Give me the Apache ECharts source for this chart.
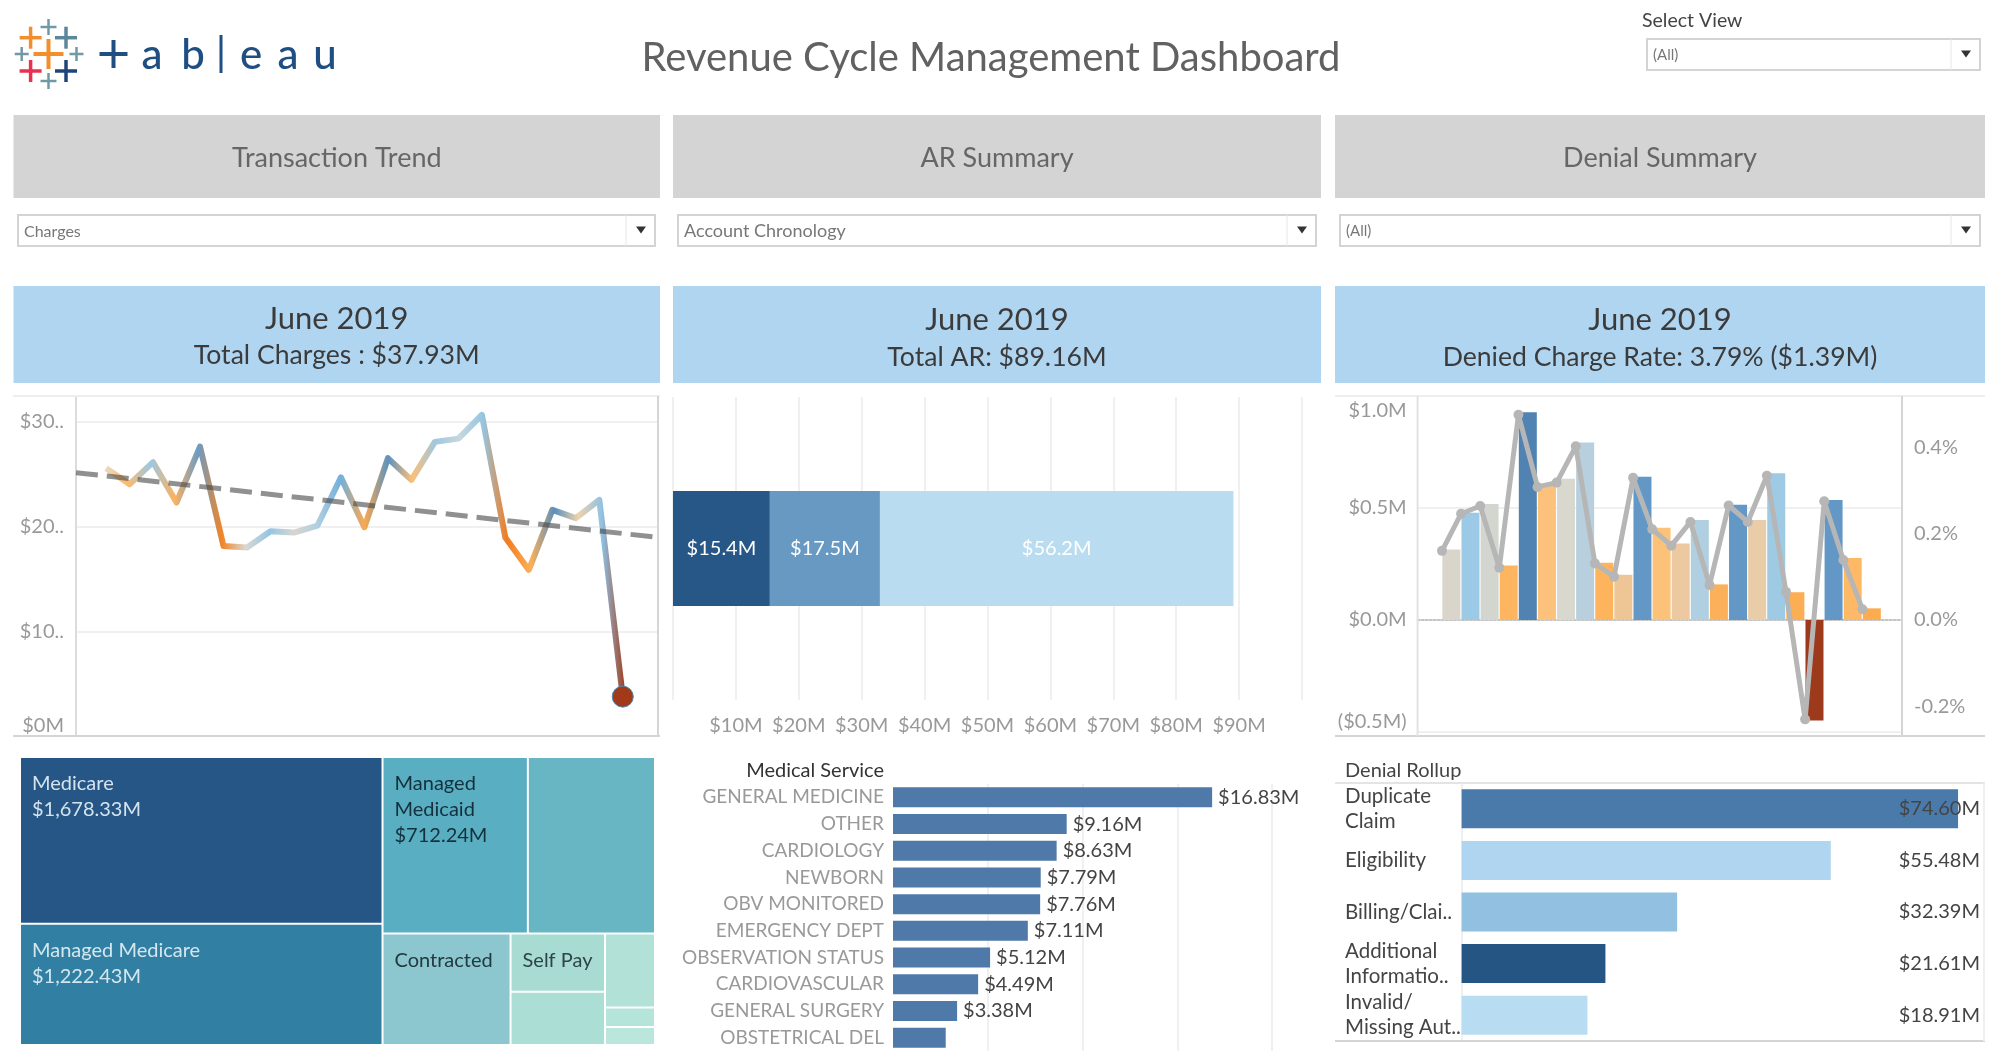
<!DOCTYPE html>
<html lang="en">
<head>
    <meta charset="utf-8">
    <title>Revenue Cycle Management Dashboard</title>
    <script src="https://cdn.jsdelivr.net/npm/echarts@6/dist/echarts.min.js"></script>
    <style>
        html, body { margin: 0; padding: 0; background: #fff; }
        #main { width: 2000px; height: 1051px; }
    </style>
</head>
<body>

<div id="main"></div>

<script>
    var FONT = 'Lato';

    // Transaction trend, $M per month, last point is June 2019
    var chargeValues = [25.57, 24.04, 26.15, 22.3, 27.64, 18.15, 18.0, 19.55, 19.43, 20.1, 24.7, 19.94,
        26.53, 24.46, 28.09, 28.4, 30.67, 18.95, 15.86, 21.6, 20.8, 22.55, 3.76];
    var chargeColors = ['#e8dccb', '#fdbb6c', '#9cc8e3', '#fdb25f', '#6b9cc4', '#f28527', '#dcd8d0', '#93c5e5',
        '#d8d6cf', '#b2d0e0', '#72b0dd', '#fba84f', '#5c93bf', '#fdbf75', '#9ec8e2', '#c8d7dd', '#95c5e2',
        '#f27c1e', '#fcb05a', '#5a90bd', '#efd2ac', '#8fc2e4', '#a23a1a'];
    var trendX = [-1.28, 23.36];
    var trendY = [25.15, 19.0];
    var chargeTicks = ['$0M', '$10..', '$20..', '$30..'];

    // AR summary
    var arNames = ['0-30', '31-90', '90+'];
    var arValues = [15.4, 17.5, 56.2];
    var arLabels = ['$15.4M', '$17.5M', '$56.2M'];
    var arColors = ['#265786', '#6899c3', '#badcf1'];
    var arTicks = ['', '$10M', '$20M', '$30M', '$40M', '$50M', '$60M', '$70M', '$80M', '$90M', ''];

    // Denial summary
    var deniedValues = [0.315, 0.479, 0.518, 0.243, 0.927, 0.603, 0.631, 0.792, 0.256, 0.202, 0.64, 0.412,
        0.341, 0.446, 0.159, 0.515, 0.446, 0.655, 0.124, -0.449, 0.536, 0.277, 0.052];
    var deniedColors = ['#d9d5cb', '#9cc9e6', '#d3d6cf', '#fdb55f', '#5082b2', '#fcc27c', '#d9d8cf', '#b8cfde',
        '#fdb45c', '#eec696', '#6398c6', '#fdc27a', '#ecc9a0', '#b0cfe0', '#fdb05a', '#6398c6', '#e9cca8',
        '#9ecae4', '#fcae55', '#9d3a1b', '#6398c6', '#fdb966', '#fdab4f'];
    var rateValues = [0.16, 0.246, 0.264, 0.121, 0.475, 0.308, 0.318, 0.402, 0.131, 0.1, 0.329, 0.21,
        0.172, 0.227, 0.081, 0.265, 0.227, 0.334, 0.065, -0.23, 0.275, 0.139, 0.025];
    var deniedTicks = [-0.5, 0, 0.5, 1];
    var deniedTickLabels = ['($0.5M)', '$0.0M', '$0.5M', '$1.0M'];
    var rateTicks = [-0.2, 0, 0.2, 0.4];
    var rateTickLabels = ['-0.2%', '0.0%', '0.2%', '0.4%'];

    // Payer treemap, $M. Some cells have no readable caption
    var payerNames = ['Medicare', 'Managed Medicare', 'Managed Medicaid', '', 'Contracted', 'Self Pay', '', '', '', ''];
    var payerValues = [1678.33, 1222.43, 712.24, 623, 397, 153, 140, 103, 27, 25];
    var payerLabels = ['Medicare\n$1,678.33M', 'Managed Medicare\n$1,222.43M', 'Managed\nMedicaid\n$712.24M', '',
        'Contracted', 'Self Pay', '', '', '', ''];
    var payerColors = ['#255685', '#3180a3', '#5aaec2', '#68b5c4', '#8cc6cf', '#a8dcd3', '#abded5', '#b1e1d7', '#b5e4da', '#bbe6dc'];
    var payerTextColors = ['#d5e3ee', '#d5e7ee', '#14303c', '', '#22393f', '#2f4448', '', '', '', ''];

    // Medical service
    var serviceNames = ['GENERAL MEDICINE', 'OTHER', 'CARDIOLOGY', 'NEWBORN', 'OBV MONITORED', 'EMERGENCY DEPT',
        'OBSERVATION STATUS', 'CARDIOVASCULAR', 'GENERAL SURGERY', 'OBSTETRICAL DEL'];
    var serviceValues = [16.83, 9.16, 8.63, 7.79, 7.76, 7.11, 5.12, 4.49, 3.38, 2.78];

    // Denial rollup
    var rollupNames = ['Duplicate\nClaim', 'Eligibility', 'Billing/Clai..', 'Additional\nInformatio..', 'Invalid/\nMissing Aut..'];
    var rollupValues = [74.6, 55.48, 32.39, 21.61, 18.91];
    var rollupLabels = ['$74.60M', '$55.48M', '$32.39M', '$21.61M', '$18.91M'];
    var rollupColors = ['#4a7aaa', '#b0d5f0', '#92c0e1', '#255683', '#b8ddf2'];

    var myChart = echarts.init(document.getElementById('main'));

    function pairs(xs, ys) {
        return ys.map(function (y, i) { return [xs[i], y]; });
    }
    var monthIndex = chargeValues.map(function (v, i) { return i; });
    var barIndex = deniedValues.map(function (v, i) { return i + 0.49; });

    var chargeStops = chargeColors.map(function (c, i) {
        return { offset: i / (chargeColors.length - 1), color: c };
    });

    function text(str, x, y, size, color, align, weight) {
        return {
            type: 'text', z: 10, silent: true,
            style: {
                text: str, x: x, y: y, fill: color, align: align || 'center', verticalAlign: 'middle',
                font: (weight || 'normal') + ' ' + size + 'px ' + FONT
            }
        };
    }
    function box(x, y, w, h, fill, stroke) {
        return {
            type: 'rect', silent: true, shape: { x: x, y: y, width: w, height: h },
            style: { fill: fill, stroke: stroke || null, lineWidth: stroke ? 2 : 0 }
        };
    }
    function rule(x1, y1, x2, y2, color, width) {
        return {
            type: 'line', silent: true, z: 10, shape: { x1: x1, y1: y1, x2: x2, y2: y2 },
            style: { stroke: color, lineWidth: width || 2 }
        };
    }
    function dropdown(x1, x2, sep, y1, y2, label, size) {
        var mid = (y1 + y2) / 2;
        var out = [box(x1, y1, x2 - x1, y2 - y1, '#fff', '#d4d4d4'), rule(sep, y1, sep, y2, '#e6e6e6', 1)];
        out.push(text(label, x1 + 6, mid + 1, size, '#777', 'left'));
        out.push({
            type: 'polygon', silent: true, z: 10,
            shape: { points: [[sep + 10, mid - 4], [sep + 20, mid - 4], [sep + 15, mid + 3]] },
            style: { fill: '#333' }
        });
        return out;
    }

    var graphics = [];

    // logo
    var crosses = [[48.5, 27, 8, '#7099a6', 2.5], [30.6, 37.7, 11, '#f28e2b', 3.5], [66, 37.7, 11, '#5b879b', 3.5],
        [48.5, 54, 15, '#f28e2b', 4], [21.7, 54, 7, '#7099a6', 2.5], [76.5, 54, 7, '#7099a6', 2.5],
        [30.6, 71, 11, '#e8304f', 3.5], [66, 71, 11, '#1f447a', 3.5], [48.5, 81, 8, '#7099a6', 2.5], [113.5, 54, 14, '#1f4f82', 4]];
    crosses.forEach(function (c) {
        graphics.push(rule(c[0] - c[2], c[1], c[0] + c[2], c[1], c[3], c[4]));
        graphics.push(rule(c[0], c[1] - c[2], c[0], c[1] + c[2], c[3], c[4]));
    });
    [['a', 152], ['b', 193], ['e', 251], ['a', 288], ['u', 325]].forEach(function (l) {
        graphics.push(text(l[0], l[1], 55, 42, '#1f4f82', 'center', '500'));
    });
    graphics.push(rule(221, 35, 221, 73, '#1f4f82', 3));

    graphics.push(text('Revenue Cycle Management Dashboard', 991, 58, 40, '#616161'));
    graphics.push(text('Select View', 1642, 21, 19.5, '#444', 'left'));
    graphics = graphics.concat(dropdown(1647, 1980, 1951, 39, 70, '(All)', 15));

    // column headers
    var columns = [
        { x1: 13.5, x2: 660, title: 'Transaction Trend', dd: 'Charges', ddSize: 16, ddX: [18, 655, 626], sub: 'Total Charges : $37.93M', yj: 319, ys: 355 },
        { x1: 673, x2: 1321, title: 'AR Summary', dd: 'Account Chronology', ddSize: 18, ddX: [678, 1316, 1287], sub: 'Total AR: $89.16M', yj: 320, ys: 357 },
        { x1: 1335, x2: 1985, title: 'Denial Summary', dd: '(All)', ddSize: 15, ddX: [1340, 1980, 1951], sub: 'Denied Charge Rate: 3.79% ($1.39M)', yj: 320, ys: 357 }
    ];
    columns.forEach(function (c) {
        var mid = (c.x1 + c.x2) / 2;
        graphics.push(box(c.x1, 115, c.x2 - c.x1, 83, '#d4d4d4'));
        graphics.push(text(c.title, mid, 158, 27, '#666'));
        graphics = graphics.concat(dropdown(c.ddX[0], c.ddX[1], c.ddX[2], 215, 246, c.dd, c.ddSize));
        graphics.push(box(c.x1, 286, c.x2 - c.x1, 97, '#b0d5f0'));
        graphics.push(text('June 2019', mid, c.yj, 31, '#3b3b3b'));
        graphics.push(text(c.sub, mid, c.ys, 26.6, '#3b3b3b'));
    });

    // panel frames
    graphics.push(rule(13, 396, 660, 396, '#eeeeee'));
    graphics.push(rule(13, 736, 660, 736, '#d5d5d5'));
    graphics.push(rule(658, 396, 658, 736, '#d5d5d5'));
    graphics.push(rule(1335, 396, 1985, 396, '#eeeeee'));
    graphics.push(rule(1335, 736, 1985, 736, '#d5d5d5'));
    graphics.push(rule(1417.6, 396, 1417.6, 736, '#e2e2e2'));
    graphics.push(rule(1902, 396, 1902, 736, '#d5d5d5'));
    graphics.push(rule(1335, 783, 1985, 783, '#e4e4e4'));
    graphics.push(rule(1335, 1041, 1985, 1041, '#d5d5d5'));
    graphics.push(rule(1984, 783, 1984, 1041, '#efefef'));

    graphics.push(text('Medical Service', 884, 771, 20, '#333', 'right'));
    graphics.push(text('Denial Rollup', 1345, 771, 20, '#444', 'left'));

    var faint = { lineStyle: { color: '#f0f0f0', width: 2 } };

    var arSeries = arValues.map(function (v, i) {
        return {
            type: 'bar', name: arNames[i], stack: 'ar', xAxisIndex: 1, yAxisIndex: 1, barWidth: 115, data: [v],
            itemStyle: { color: arColors[i] },
            label: { show: true, position: 'inside', color: '#fff', fontSize: 20, fontFamily: FONT, padding: [3, 0, 0, 0], formatter: arLabels[i] }
        };
    });

    var option = {
        animation: false,
        backgroundColor: '#fff',
        textStyle: { fontFamily: FONT },
        graphic: graphics,
        grid: [
            { left: 76, top: 396, width: 582, height: 340 },
            { left: 673, top: 397, width: 629, height: 303 },
            { left: 1417.6, top: 396, width: 484.4, height: 336 },
            { left: 893, top: 784, width: 409, height: 267 },
            { left: 1461.6, top: 783, width: 523.4, height: 258 }
        ],
        xAxis: [
            { gridIndex: 0, type: 'value', min: -1.28, max: 23.5, show: false },
            {
                gridIndex: 1, type: 'value', min: 0, max: 100, interval: 10,
                axisLine: { show: false }, axisTick: { show: false }, splitLine: faint,
                axisLabel: {
                    color: '#999', fontFamily: FONT, fontSize: 20, margin: 16,
                    showMinLabel: true, showMaxLabel: true,
                    formatter: function (v) { return arTicks[v / 10]; }
                }
            },
            { gridIndex: 2, type: 'value', min: -1.277, max: 24.07, axisLabel: { show: false }, axisTick: { show: false }, splitLine: { show: false },
                axisLine: { show: true, onZero: true, lineStyle: { color: '#c4c4c4', type: 'dotted', width: 2 } } },
            {
                gridIndex: 3, type: 'value', min: 0, max: 21.57, interval: 5,
                axisLabel: { show: false }, axisTick: { show: false }, axisLine: { show: false },
                splitLine: { showMinLine: false, showMaxLine: false, lineStyle: { color: '#f0f0f0', width: 2 } }
            },
            { gridIndex: 4, type: 'value', min: 0, max: 78.65, show: false }
        ],
        yAxis: [
            {
                gridIndex: 0, type: 'value', min: 0, max: 32.47, interval: 10,
                axisLine: { show: true, onZero: false, lineStyle: { color: '#dcdcdc', width: 2 } }, axisTick: { show: false },
                splitLine: { showMinLine: false, showMaxLine: false, lineStyle: { color: '#f0f0f0', width: 2 } },
                axisLabel: {
                    color: '#999', fontFamily: FONT, fontSize: 20, margin: 12, showMaxLabel: false, verticalAlignMinLabel: 'bottom', padding: [5, 0, 0, 0],
                    formatter: function (v) { return chargeTicks[v / 10]; }
                }
            },
            { gridIndex: 1, type: 'category', data: ['AR'], show: false },
            {
                gridIndex: 2, type: 'value', min: -0.5, max: 1, interval: 0.5,
                axisLine: { show: false, onZero: false }, axisTick: { show: false }, splitLine: faint,
                axisLabel: {
                    color: '#999', fontFamily: FONT, fontSize: 20, margin: 11, verticalAlignMaxLabel: 'top', verticalAlignMinLabel: 'bottom', padding: [5, 0, 0, 0],
                    formatter: function (v) { return deniedTickLabels[deniedTicks.indexOf(v)]; }
                }
            },
            {
                gridIndex: 2, type: 'value', position: 'right', min: -0.2593, max: 0.5185,
                axisLine: { show: false, onZero: false }, axisTick: { show: false }, splitLine: { show: false },
                axisLabel: {
                    color: '#999', fontFamily: FONT, fontSize: 20, margin: 12, customValues: rateTicks, padding: [5, 0, 0, 0],
                    formatter: function (v) { return rateTickLabels[rateTicks.indexOf(v)]; }
                }
            },
            {
                gridIndex: 3, type: 'category', inverse: true, data: serviceNames,
                axisLine: { show: false }, axisTick: { show: false },
                axisLabel: { color: '#999', fontFamily: FONT, fontSize: 19, margin: 9, interval: 0 }
            },
            {
                gridIndex: 4, type: 'category', inverse: true, data: rollupNames,
                axisLine: { show: true, lineStyle: { color: '#efefef', width: 2 } }, axisTick: { show: false },
                axisLabel: { color: '#444', fontFamily: FONT, fontSize: 20.5, lineHeight: 25, align: 'left', margin: 116.6, interval: 0 }
            },
            {
                gridIndex: 4, type: 'category', inverse: true, position: 'right', data: rollupLabels, z: 5,
                axisLine: { show: false }, axisTick: { show: false },
                axisLabel: { color: '#444', fontFamily: FONT, fontSize: 20, inside: true, margin: 5, interval: 0 }
            }
        ],
        series: [
            {
                type: 'line', xAxisIndex: 0, yAxisIndex: 0, data: pairs(monthIndex, chargeValues), symbol: 'none',
                lineStyle: { width: 6, join: 'round', color: new echarts.graphic.LinearGradient(0, 0, 1, 0, chargeStops) }
            },
            {
                type: 'line', xAxisIndex: 0, yAxisIndex: 0, data: pairs(trendX, trendY), symbol: 'none', z: 3,
                lineStyle: { width: 5, type: [22, 9], color: 'rgba(70,70,70,0.6)' }
            },
            {
                type: 'scatter', xAxisIndex: 0, yAxisIndex: 0, z: 4, symbolSize: 21,
                data: [[monthIndex[monthIndex.length - 1], chargeValues[chargeValues.length - 1]]],
                itemStyle: { color: '#a23a1a', opacity: 1, borderColor: '#4d85b0', borderWidth: 1 }
            },
            {
                type: 'bar', xAxisIndex: 2, yAxisIndex: 2, barWidth: 18,
                data: deniedValues.map(function (v, i) {
                    return { value: [barIndex[i], v], itemStyle: { color: deniedColors[i] } };
                })
            },
            {
                type: 'line', xAxisIndex: 2, yAxisIndex: 3, data: pairs(monthIndex, rateValues), symbol: 'circle', symbolSize: 10, z: 4,
                lineStyle: { width: 5, color: '#b6b6b6', join: 'round' }, itemStyle: { color: '#b6b6b6' }
            },
            {
                type: 'bar', xAxisIndex: 3, yAxisIndex: 4, barWidth: 20,
                data: serviceValues.map(function (v, i) {
                    // last bar has no caption in the dashboard
                    return { value: v, label: { show: i < serviceValues.length - 1 } };
                }),
                itemStyle: { color: '#4e79a9' },
                label: {
                    show: true, position: 'right', distance: 6, color: '#444', fontFamily: FONT, fontSize: 20,
                    formatter: function (p) { return '$' + p.value.toFixed(2) + 'M'; }
                }
            },
            {
                type: 'bar', xAxisIndex: 4, yAxisIndex: 5, barWidth: 39,
                data: rollupValues.map(function (v, i) {
                    return { value: v, itemStyle: { color: rollupColors[i] } };
                })
            },
            {
                type: 'treemap', left: 21, top: 758, width: 633, height: 286,
                roam: false, nodeClick: false, breadcrumb: { show: false },
                itemStyle: { gapWidth: 2, borderWidth: 0 },
                data: payerValues.map(function (v, i) {
                    return {
                        name: payerNames[i], value: v,
                        itemStyle: { color: payerColors[i] },
                        label: {
                            show: payerLabels[i] !== '', formatter: payerLabels[i], position: [6, 8],
                            color: payerTextColors[i], fontFamily: FONT, fontSize: 20, lineHeight: 26
                        }
                    };
                })
            }
        ].concat(arSeries)
    };

    myChart.setOption(option);
</script>
</body>
</html>
